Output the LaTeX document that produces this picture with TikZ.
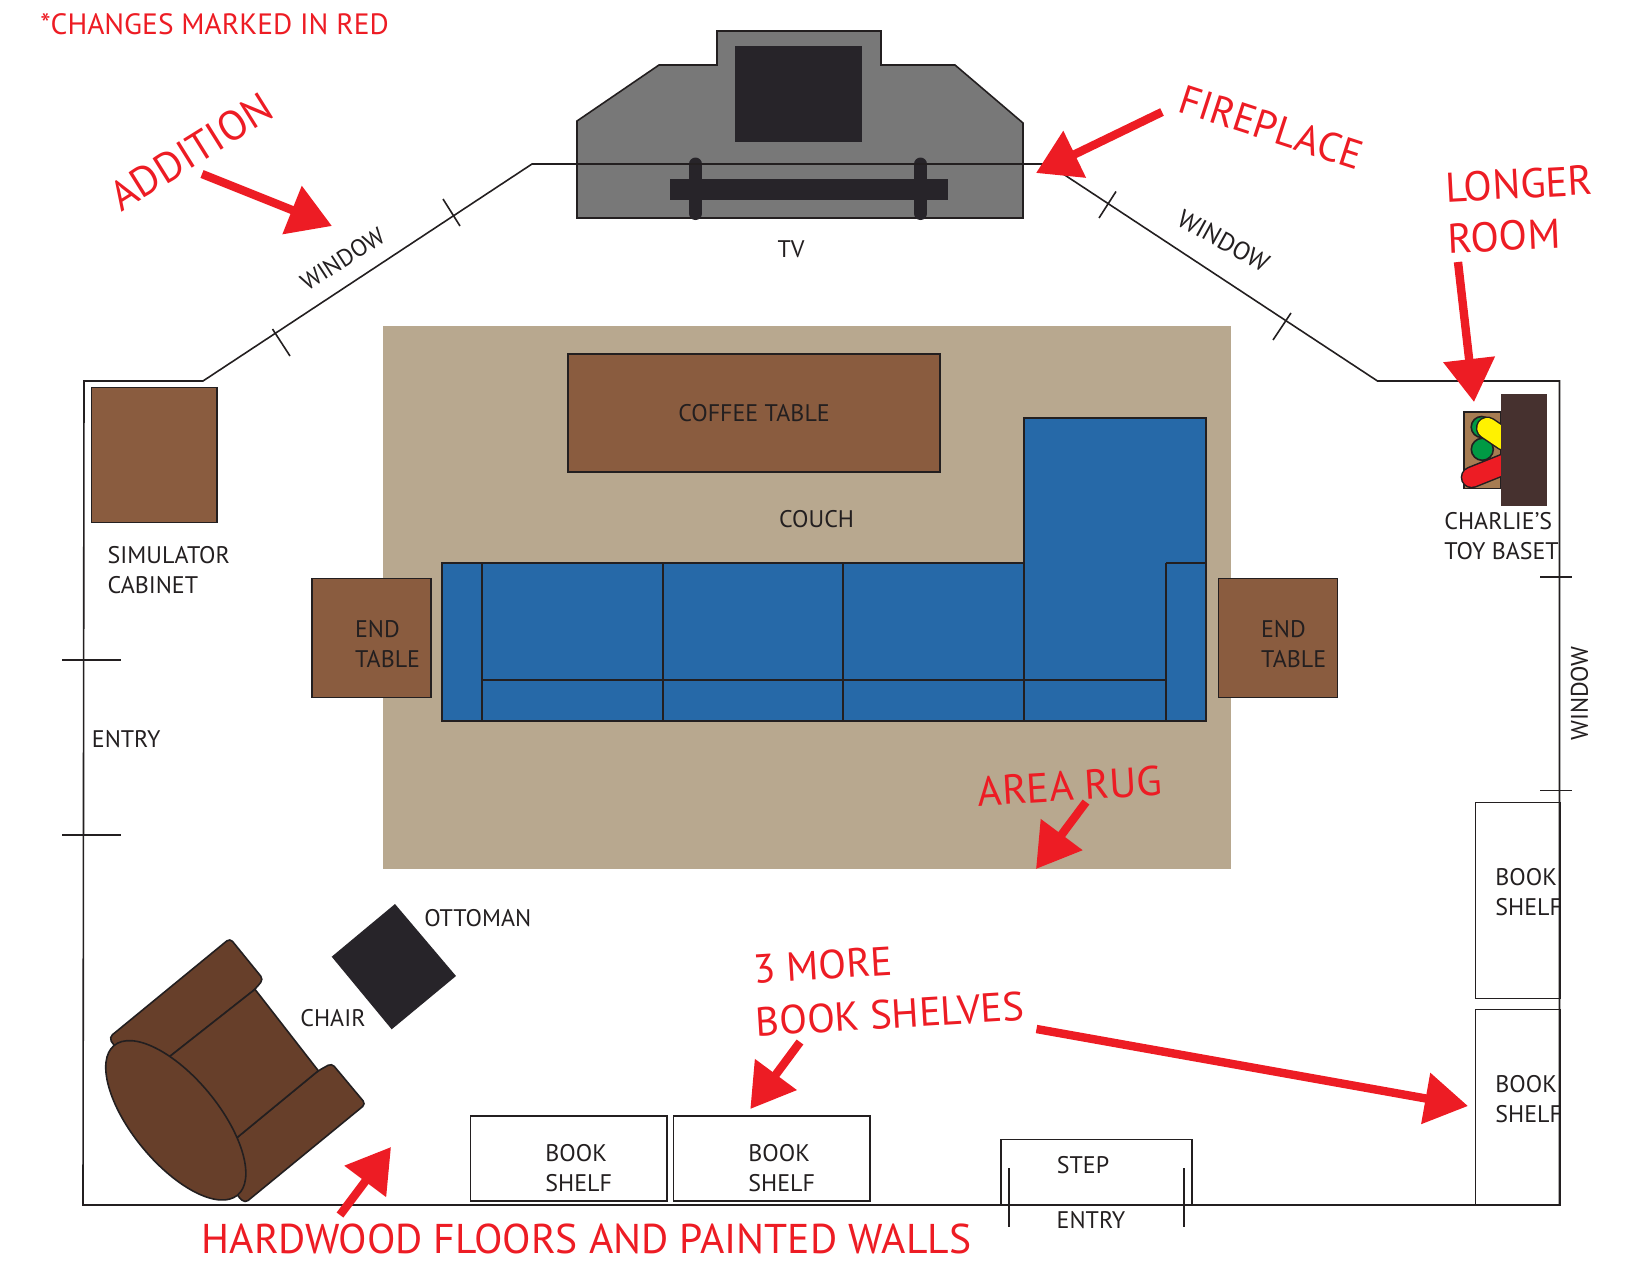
\documentclass[tikz,border=0pt]{standalone}
\usepackage{fontspec}
\setmainfont{PT Sans}
\usetikzlibrary{arrows.meta}
\definecolor{redm}{HTML}{ED1C24}
\definecolor{ink}{HTML}{231F20}
\definecolor{ottoc}{HTML}{272429}
\definecolor{rug}{HTML}{B8A88F}
\definecolor{wood}{HTML}{8A5C3F}
\definecolor{blue}{HTML}{2669A8}
\definecolor{chairc}{HTML}{673F2A}
\definecolor{stone}{HTML}{787878}
\definecolor{darkb}{HTML}{46312F}
\definecolor{basket}{HTML}{A67C52}
\definecolor{gr}{HTML}{009A44}
\tikzset{
  x=0.5pt,y=-0.5pt,
  line/.style={draw=ink,line width=0.8pt},
  lab/.style={text=ink,inner sep=0pt,font=\fontsize{12}{15}\selectfont,align=left},
  redlab/.style={text=redm,inner sep=0pt,font=\fontsize{20.8}{24}\selectfont},
  redsmall/.style={redlab,font=\fontsize{20.3}{24}\selectfont},
  redarrow/.style={draw=redm,line width=4.2pt,-{Triangle[length=21.5pt,width=25pt]}},
}
\begin{document}
\begin{tikzpicture}
\useasboundingbox (0,0) rectangle (1650,1275);
% rug and furniture
\node[rectangle,fill=rug,inner sep=0pt,minimum width=424pt,minimum height=271.5pt] (rugbox) at (807,597.5) {};
\node[line,fill=wood,inner sep=0pt,minimum width=186pt,minimum height=58.75pt,lab] (coffee) at (754,413) {COFFEE TABLE};
\node[line,fill=wood,inner sep=0pt,minimum width=62.75pt,minimum height=67.5pt] (cabinet) at (154.25,455) {};
\node[line,fill=wood,inner sep=0pt,minimum width=59.5pt,minimum height=59.5pt] (endl) at (371.5,638) {};
\node[line,fill=wood,inner sep=0pt,minimum width=59.5pt,minimum height=59.5pt] (endr) at (1278,638) {};
% couch
\filldraw[line,fill=blue] (442,563) -- (1024,563) -- (1024,418) -- (1206,418) -- (1206,721) -- (442,721) -- cycle;
\draw[line] (482,563) -- (482,721) (663,563) -- (663,721) (843,563) -- (843,721) (1024,563) -- (1024,721);
\draw[line] (482,680) -- (1166,680) (1166,563) -- (1166,721) (1166,563) -- (1206,563);
% fireplace
\filldraw[line,fill=stone] (577,218) -- (577,121) -- (659,65) -- (717,65) -- (717,31) -- (881,31) -- (881,65) -- (955,65) -- (1023,123) -- (1023,218) -- cycle;
\fill[ottoc] (735,46) rectangle (862,142);
\fill[ottoc] (670,179) rectangle (948,200);
\draw[ottoc,line width=6.5pt,line cap=round] (695.5,164) -- (695.5,213.5) (920.5,164) -- (920.5,213.5);
% walls
\coordinate (w1) at (84,381); \coordinate (w2) at (203,381); \coordinate (w3) at (532,164);
\coordinate (w4) at (1048,164); \coordinate (w5) at (1377.5,381); \coordinate (w6) at (1559.5,381);
\coordinate (w7) at (1559.5,1205); \coordinate (w8) at (83,1205);
\draw[line] (w1) -- (w2) -- (w3) -- (w4) -- (w5) -- (w6) -- (w7) -- (w8) -- cycle;
% ticks
\draw[line] (272.5,329) -- (290,356) (443,199) -- (460,226) (1099,218) -- (1116,191.5) (1273,340) -- (1291,313);
\draw[line] (62,660) -- (121,660) (62,835) -- (121,835);
\draw[line] (1540,577) -- (1572,577) (1540,790.5) -- (1572,790.5);
% shelves
\node[line,fill=white,inner sep=0pt,minimum width=98.25pt,minimum height=42.25pt] (s1) at (568.75,1158.5) {};
\node[line,fill=white,inner sep=0pt,minimum width=98.25pt,minimum height=42.25pt] (s2) at (771.75,1158.5) {};
\node[line,inner sep=0pt,minimum width=42.25pt,minimum height=98pt] (s3) at (1517.75,900.5) {};
\node[line,inner sep=0pt,minimum width=42.25pt,minimum height=98pt] (s4) at (1517.75,1107.5) {};
% step and entry
\draw[line] (1001,1205) -- (1001,1139.5) -- (1192,1139.5) -- (1192,1205);
\draw[line] (1009,1168) -- (1009,1227) (1184,1168) -- (1184,1227);
% chair
\filldraw[line,fill=chairc,rounded corners=2pt] (230,938.3) -- (263.3,979.3) -- (255,989.3) -- (150,1072) -- (113.3,1045) -- (109.3,1037.3) -- cycle;
\filldraw[line,fill=chairc,rounded corners=2pt] (331.7,1063.3) -- (365.7,1104) -- (245,1203) -- (236.7,1195) -- (222,1150) -- (318.3,1070.7) -- cycle;
\filldraw[line,fill=chairc] (255,989.3) -- (318.3,1070.7) -- (222,1150) -- (150,1072) -- cycle;
\filldraw[line,fill=chairc,rotate around={-50.5:(175.8,1120.3)}] (175.8,1120.3) ellipse [x radius=97,y radius=43];
\fill[ottoc] (395,904) -- (456,976) -- (391.7,1029.3) -- (331.7,956.7) -- cycle;
% toy basket
\filldraw[line,fill=basket] (1464,411.7) rectangle (1500.7,488.3);
\filldraw[line,fill=gr] (1481.7,427) circle [radius=10.5];
\filldraw[line,fill=gr] (1482.3,449.3) circle [radius=11];
\draw[ink,line width=11.5pt,line cap=round] (1487.3,428) -- (1505,440);
\draw[yellow,line width=10pt,line cap=round] (1487.3,428) -- (1505,440);
\draw[ink,line width=11pt,line cap=round] (1471.7,477.3) -- (1506.7,463.3);
\draw[redm,line width=9.5pt,line cap=round] (1471.7,477.3) -- (1506.7,463.3);
\fill[darkb] (1500.7,394) rectangle (1547,505.5);
% small labels
\node[lab] (tv) at (791,249.5) {TV};
\node[lab] (couch) at (816.6,519) {COUCH};
\node[lab,anchor=west] (simcab) at (107.3,570.5) {SIMULATOR\\CABINET};
\node[lab,anchor=west] (et1) at (354.6,644.5) {END\\TABLE};
\node[lab,anchor=west] (et2) at (1260.7,644.5) {END\\TABLE};
\node[lab,anchor=west] (entry1) at (91.5,739) {ENTRY};
\node[lab,rotate=33] (win1) at (342.5,259) {WINDOW};
\node[lab,rotate=-29,font=\fontsize{12.7}{15}\selectfont] (win2) at (1223.5,240.5) {WINDOW};
\node[lab,rotate=90] (win3) at (1579.5,693.5) {WINDOW};
\node[lab,anchor=west] (toy) at (1444,535.6) {CHARLIE’S\\TOY BASET};
\node[lab,anchor=west] (b3) at (1495,892) {BOOK\\SHELF};
\node[lab,anchor=west] (b4) at (1495,1099) {BOOK\\SHELF};
\node[lab,anchor=west] (b1) at (545,1168) {BOOK\\SHELF};
\node[lab,anchor=west] (b2) at (748,1168) {BOOK\\SHELF};
\node[lab] (step) at (1083,1165) {STEP};
\node[lab] (entry2) at (1091,1220.5) {ENTRY};
\node[lab,anchor=west] (ott) at (424,918) {OTTOMAN};
\node[lab,anchor=west] (chr) at (300,1018) {CHAIR};
% red labels
\node[redlab,anchor=west,font=\fontsize{14.7}{17}\selectfont] (changes) at (40,24) {*CHANGES MARKED IN RED};
\node[redlab,rotate=32] (addition) at (191,152) {ADDITION};
\node[redsmall,rotate=-18] (fire) at (1271,127) {FIREPLACE};
\node[redlab,rotate=3] (longer) at (1519,184) {LONGER};
\node[redlab,rotate=2.5] (room) at (1504,236) {ROOM};
\node[redlab,rotate=3.5] (area) at (1070,786) {AREA RUG};
\node[redsmall,rotate=3.5] (more) at (823,965) {3 MORE};
\node[redsmall,rotate=3.5] (shelves) at (890,1014) {BOOK SHELVES};
\node[redlab] (hard) at (586.5,1239) {HARDWOOD FLOORS AND PAINTED WALLS};
% red arrows
\coordinate (a1s) at (202,174); \coordinate (a1e) at (332,226);
\coordinate (a2s) at (1162,112); \coordinate (a2e) at (1036,173);
\coordinate (a3s) at (1458,262); \coordinate (a3e) at (1474,402);
\coordinate (a4s) at (1086,802); \coordinate (a4e) at (1036,869);
\coordinate (a5s) at (800,1042); \coordinate (a5e) at (750.3,1109);
\coordinate (a6s) at (1036.5,1029); \coordinate (a6e) at (1468,1106);
\coordinate (a7s) at (340,1215); \coordinate (a7e) at (391,1147);
\foreach \s/\e in {a1s/a1e,a2s/a2e,a3s/a3e,a4s/a4e,a5s/a5e,a6s/a6e,a7s/a7e}
  \draw[redarrow] (\s) -- (\e);
\end{tikzpicture}
\end{document}
